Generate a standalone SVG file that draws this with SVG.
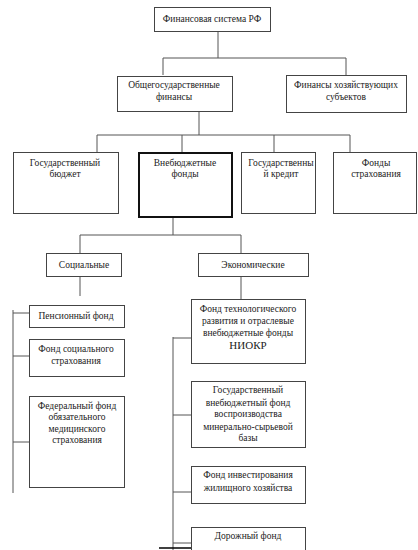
<svg xmlns="http://www.w3.org/2000/svg" width="418" height="550" viewBox="0 0 418 550">
<style>
.b{fill:#fff;stroke:#444;stroke-width:1}
.bt{fill:#fff;stroke:#111;stroke-width:2}
.c{fill:none;stroke:#555;stroke-width:1}
text{font-family:"Liberation Serif","Times New Roman",serif;font-size:9.5px;fill:#222;text-anchor:middle}
</style>
<rect width="418" height="550" fill="#fff"/>
<g id="connectors">
<path class="c" d="M218 31V58M163 58H346M163 58V75M346 58V75"/>
<path class="c" d="M199 112V135M97 135H350M97 135V152M182 135V152M274 135V152M350 135V152"/>
<path class="c" d="M173 217V235M80 235H241M80 235V253M241 235V253"/>
<path class="c" d="M80 276V296M241 276V299"/>
<path class="c" d="M13 310V493M13 313H29M13 356H29M13 442H29"/>
<path class="c" d="M173 337V550M173 338H191M173 415H191M173 492H191M173 543H191"/>
<path d="M159 548H274" fill="none" stroke="#000" stroke-width="1.4"/>
</g>
<g id="n-root"><rect class="b" x="154.5" y="7.5" width="116" height="24"/><text x="212" y="22">Финансовая система РФ</text></g>
<g id="n-obsh"><rect class="b" x="117.5" y="76.5" width="115" height="35"/><text x="174" y="88">Общегосударственные</text><text x="174" y="100">финансы</text></g>
<g id="n-hoz"><rect class="b" x="286.5" y="75.5" width="120" height="37"/><text x="346" y="88">Финансы хозяйствующих</text><text x="346" y="100">субъектов</text></g>
<g id="n-budget"><rect class="b" x="13.5" y="152.5" width="105" height="61"/><text x="65" y="166">Государственный</text><text x="65" y="177">бюджет</text></g>
<g id="n-vneb"><rect class="bt" x="139" y="153" width="93" height="64"/><text x="185" y="166">Внебюджетные</text><text x="185" y="177">фонды</text></g>
<g id="n-credit"><rect class="b" x="241.5" y="152.5" width="74" height="61"/><text x="281" y="166">Государственны</text><text x="281" y="177">й кредит</text></g>
<g id="n-strah"><rect class="b" x="333.5" y="152.5" width="83" height="61"/><text x="376" y="166">Фонды</text><text x="376" y="177">страхования</text></g>
<g id="n-soc"><rect class="b" x="46.5" y="253.5" width="75" height="23"/><text x="84" y="268">Социальные</text></g>
<g id="n-econ"><rect class="b" x="198.5" y="253.5" width="110" height="23"/><text x="253" y="268">Экономические</text></g>
<g id="n-pens"><rect class="b" x="29.5" y="305.5" width="95" height="22"/><text x="76" y="319">Пенсионный фонд</text></g>
<g id="n-fss"><rect class="b" x="29.5" y="339.5" width="95" height="37"/><text x="76" y="352">Фонд социального</text><text x="76" y="364">страхования</text></g>
<g id="n-foms"><rect class="b" x="29.5" y="396.5" width="95" height="91"/><text x="77" y="409">Федеральный фонд</text><text x="77" y="420">обязательного</text><text x="77" y="432">медицинского</text><text x="77" y="443">страхования</text></g>
<g id="n-niokr"><rect class="b" x="191.5" y="299.5" width="114" height="64"/><text x="248" y="312">Фонд технологического</text><text x="248" y="324">развития и отраслевые</text><text x="248" y="336">внебюджетные фонды</text><text x="248" y="349" style="font-size:11px">НИОКР</text></g>
<g id="n-mineral"><rect class="b" x="191.5" y="381.5" width="114" height="66"/><text x="248" y="393">Государственный</text><text x="248" y="406">внебюджетный фонд</text><text x="248" y="417">воспроизводства</text><text x="248" y="430">минерально-сырьевой</text><text x="248" y="441">базы</text></g>
<g id="n-zhil"><rect class="b" x="191.5" y="466.5" width="114" height="37"/><text x="248" y="478">Фонд инвестирования</text><text x="248" y="491">жилищного хозяйства</text></g>
<g id="n-dor"><rect class="b" x="191.5" y="527.5" width="114" height="30"/><text x="248" y="539">Дорожный фонд</text></g>
</svg>
